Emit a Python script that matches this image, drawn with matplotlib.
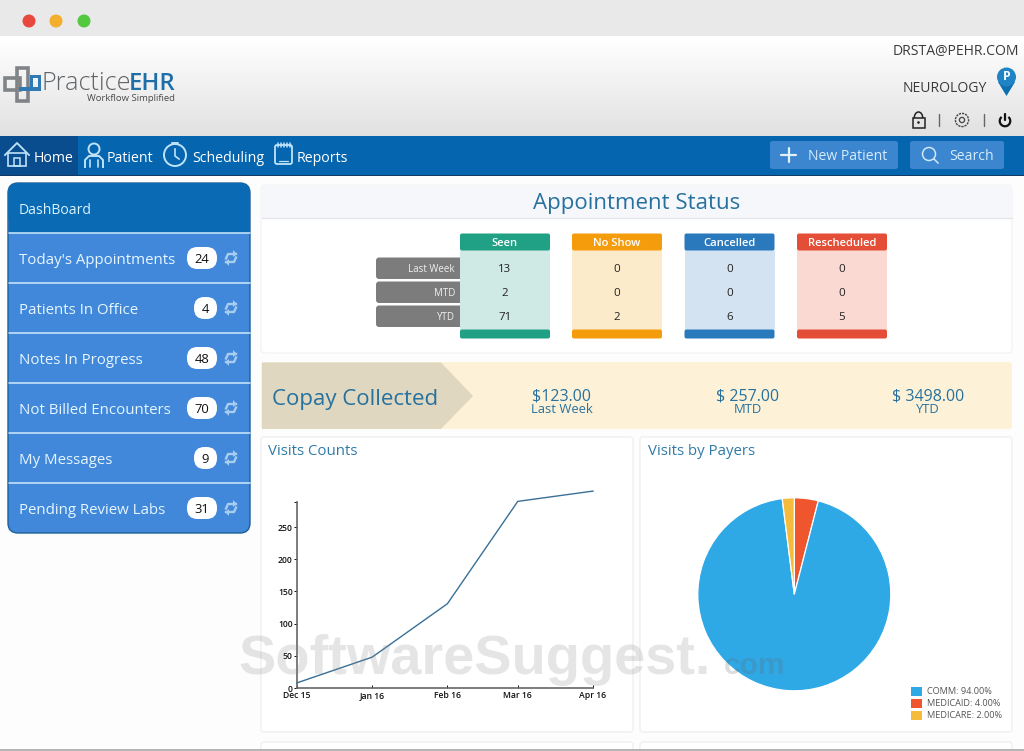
import datetime as dt
import numpy as np
import matplotlib
matplotlib.use("Agg")
import matplotlib.pyplot as plt
import matplotlib.dates as mdates
from matplotlib.patches import FancyBboxPatch, Rectangle, Circle, Polygon, Arc

plt.rcParams['font.family'] = ['Open Sans', 'DejaVu Sans']

# ---- data ----
visit_dates = [dt.date(2015, 12, 1), dt.date(2016, 1, 1), dt.date(2016, 2, 1), dt.date(2016, 3, 1), dt.date(2016, 4, 1)]
visit_counts = [8, 48, 131, 290, 306]
visit_labels = ['Dec 15', 'Jan 16', 'Feb 16', 'Mar 16', 'Apr 16']
visit_yticks = [0, 50, 100, 150, 200, 250]

payer_names = ['MEDICAID', 'COMM', 'MEDICARE']
payer_share = [4.0, 94.0, 2.0]
legend_order = ['COMM', 'MEDICAID', 'MEDICARE']

status_names = ['Seen', 'No Show', 'Cancelled', 'Rescheduled']
status_rows = ['Last Week', 'MTD', 'YTD']
seen_vals = [13, 2, 71]
noshow_vals = [0, 0, 2]
cancelled_vals = [0, 0, 6]
rescheduled_vals = [0, 0, 5]

copay_amounts = ['$123.00', '$ 257.00', '$ 3498.00']
copay_labels = ['Last Week', 'MTD', 'YTD']

side_items = ["Today's Appointments", 'Patients In Office', 'Notes In Progress',
              'Not Billed Encounters', 'My Messages', 'Pending Review Labs']
side_counts = [24, 4, 48, 70, 9, 31]

nav_items = ['Home', 'Patient', 'Scheduling', 'Reports']

# ---- canvas in pixel coordinates ----
W, H = 1024, 751
fig = plt.figure(figsize=(W / 100, H / 100), dpi=100, facecolor='#fdfdfe')
ax = fig.add_axes([0, 0, 1, 1], zorder=0)
ax.set_xlim(0, W)
ax.set_ylim(H, 0)
ax.axis('off')


def px(s):
    return s * 0.72


def rect(x, y, w, h, c, z=1, **kw):
    ax.add_patch(Rectangle((x, y), w, h, fc=c, ec='none', zorder=z, **kw))


def rrect(x, y, w, h, c, r=4, z=1, ec='none', lw=0):
    ax.add_patch(FancyBboxPatch((x + r, y + r), w - 2 * r, h - 2 * r,
                                boxstyle=f'round,pad={r},rounding_size={r}',
                                fc=c, ec=ec, lw=lw, zorder=z))


def txt(x, y, s, size, c='#222222', ha='left', va='center', z=5, **kw):
    return ax.text(x, y + 1.5, s, fontsize=px(size), color=c, ha=ha, va=va, zorder=z, **kw)


def vline(x, y0, y1, c, lw=1.2, z=6):
    ax.plot([x, x], [y0, y1], color=c, lw=lw, zorder=z, solid_capstyle='round')


def hline(x0, x1, y, c, lw=1.2, z=6):
    ax.plot([x0, x1], [y, y], color=c, lw=lw, zorder=z, solid_capstyle='round')


# window chrome
rect(0, 0, W, 36, '#e9e9e9')
for cx, col in zip([29, 56, 84], ['#e9483f', '#f2ae2c', '#52c93f']):
    ax.add_patch(Circle((cx, 21), 6.5, fc=col, ec='none', zorder=2))

# header gradient
grad = np.linspace(1.0, 0.88, 100).reshape(-1, 1)
ax.imshow(grad, extent=(0, W, 136, 36), cmap='gray', vmin=0, vmax=1, aspect='auto', zorder=1)
ax.set_xlim(0, W)
ax.set_ylim(H, 0)

# logo
ax.add_patch(Rectangle((17, 67.5), 11, 33, fc='none', ec='#808488', lw=2.6, zorder=3))
ax.add_patch(Rectangle((5, 77.5), 15, 12, fc='none', ec='#808488', lw=2.6, zorder=3))
rect(19, 87, 22, 4, '#2f79b5', z=4)
rect(30, 75, 3, 14, '#2f79b5', z=4)
rect(30, 75, 11, 3, '#2f79b5', z=4)
rect(38, 75, 3, 14, '#2f79b5', z=4)
txt(42, 82, 'Practice', 25.3, '#5f6468', fontweight='light')
txt(129, 82, 'EHR', 24, '#1e6ea8', fontweight='semibold')
txt(175, 97, 'Workflow Simplified', 9.5, '#4a4a4a', ha='right')

# user block
txt(1019, 50, 'DRSTA@PEHR.COM', 14, '#3a3a3a', ha='right')
txt(987, 87, 'NEUROLOGY', 14, '#3a3a3a', ha='right')
ax.add_patch(Polygon([[998, 82], [1015, 82], [1006.5, 96]], fc='#0d6fb0', ec='none', zorder=4))
ax.add_patch(Circle((1006.5, 77), 9.5, fc='#1f83c4', ec='none', zorder=4))
txt(1006.5, 75.5, 'P', 12, 'white', ha='center', fontweight='bold')
# lock / gear / power
ax.add_patch(Rectangle((912.5, 118), 12, 9.5, fc='none', ec='#222222', lw=1.1, zorder=6))
ax.add_patch(Arc((918.5, 118), 8.5, 12, theta1=180, theta2=360, ec='#222222', lw=1.1, zorder=6))
ax.add_patch(Circle((918.5, 122.5), 1.3, fc='#222222', ec='none', zorder=6))
vline(939, 114, 126, '#666666', 1)
ax.add_patch(Circle((962, 120), 6.6, fc='none', ec='#444444', lw=1.0, ls=(0, (1.6, 0.7)), zorder=6))
ax.add_patch(Circle((962, 120), 2.6, fc='none', ec='#444444', lw=0.9, zorder=6))
vline(984, 114, 126, '#666666', 1)
ax.add_patch(Arc((1005, 121), 10.5, 10.5, theta1=-50, theta2=230, ec='#111111', lw=1.6, zorder=6))
vline(1005, 114, 120, '#111111', 1.6)

# nav bar
rect(0, 136, W, 39, '#0565ae', z=2)
rect(0, 136, 78, 39, '#0a4d8f', z=3)
rect(0, 174.5, W, 1.5, '#123a63', z=3)
nav_x = [34, 107, 192, 297]
for x, s in zip(nav_x, nav_items):
    txt(x, 156.5, s, 14.1, 'white')
ic = '#bfe3fa'
# home icon
ax.plot([5, 17, 29], [155, 143, 155], color=ic, lw=1.3, zorder=6)
ax.add_patch(Rectangle((8, 153), 18, 13, fc='none', ec=ic, lw=1.2, zorder=6))
ax.add_patch(Rectangle((14, 158), 6, 8, fc='none', ec=ic, lw=1.1, zorder=6))
# patient icon
ax.add_patch(Circle((94, 149), 5.5, fc='none', ec=ic, lw=1.4, zorder=6))
ax.plot([85, 85, 89, 99, 103, 103], [167, 160, 156, 156, 160, 167], color=ic, lw=1.4, zorder=6)
vline(90, 160, 167, ic, 1.2)
vline(98, 160, 167, ic, 1.2)
# clock icon
ax.add_patch(Circle((175, 155), 11, fc='none', ec=ic, lw=1.4, zorder=6))
ax.plot([175, 175, 179], [149, 156, 159], color=ic, lw=1.2, zorder=6)
hline(172, 178, 142.5, ic, 1.4)
# calendar icon
ax.add_patch(FancyBboxPatch((276, 146), 15, 17, boxstyle='round,pad=1,rounding_size=2', fc='none', ec=ic, lw=1.3, zorder=6))
for x in [278, 281, 284, 287, 290]:
    vline(x, 143, 147, ic, 1.1)
hline(279, 288, 161, ic, 0.9)

# nav buttons
for x, w, s, tx in [(770, 128, 'New Patient', 808), (910, 94, 'Search', 949)]:
    rrect(x, 141, w, 28, '#3b86cf', r=2.5, z=3)
    txt(tx, 155, s, 14, '#d6ecfb', z=6)
hline(781, 796, 155, '#dff1fb', 1.6)
vline(788.5, 148, 162, '#dff1fb', 1.6)
ax.add_patch(Circle((929, 154), 6.5, fc='none', ec='#cfe8f8', lw=1.1, zorder=6))
ax.plot([934, 938], [159, 163], color='#cfe8f8', lw=1.1, zorder=6)

# sidebar
rrect(8, 183, 242, 350, '#4188da', r=10, z=2, ec='#1d5f98', lw=1)
ax.add_patch(FancyBboxPatch((18, 193), 222, 22, boxstyle='round,pad=10,rounding_size=10',
                            fc='#0a6ab4', ec='none', zorder=3))
rect(8.5, 205, 241, 27.5, '#0a6ab4', z=3)
txt(19, 208.5, 'DashBoard', 14, '#d8f4ff')
for i, (item, n) in enumerate(zip(side_items, side_counts)):
    y = 258 + i * 50
    hline(8.5, 249.5, y - 25, '#cfe9fb', 1.1, z=4)
    txt(19, y + 0.5, item, 15, '#e6f6ff')
    wid = 30 if n > 9 else 23
    rrect(217 - wid, y - 11, wid, 22, 'white', r=10.5, z=4)
    txt(217 - wid / 2, y, str(n), 13, '#111111', ha='center')
    # refresh glyph
    ax.plot([226, 228, 236], [y + 0.5, y - 4, y - 4], color='#a9cdf0', lw=1.7, zorder=5)
    ax.plot([236, 234, 226], [y - 0.5, y + 4, y + 4], color='#a9cdf0', lw=1.7, zorder=5)
    ax.add_patch(Polygon([[233, y - 8], [237, y - 4], [233, y - 1]], fc='#a9cdf0', ec='none', zorder=5))
    ax.add_patch(Polygon([[229, y + 8], [225, y + 4], [229, y + 1]], fc='#a9cdf0', ec='none', zorder=5))

# appointment status panel
rrect(261, 185, 751, 168, 'white', r=4, z=2, ec='#f1f1f1', lw=0.8)
rect(261.5, 186, 750, 32, '#f6f7fb', z=3)
hline(261.5, 1011.5, 218, '#e4e6ea', 1, z=4)
txt(636.5, 202.5, 'Appointment Status', 22.3, '#27719f', ha='center', z=5)

col_x = [460, 572, 684.5, 797]
col_head = ['#20a085', '#f59c0c', '#2a79bd', '#e44d36']
col_body = ['#cfeae4', '#fcebcb', '#d4e3f1', '#fbd9d3']
col_vals = [seen_vals, noshow_vals, cancelled_vals, rescheduled_vals]
row_y = [268, 292, 316]
for ry, rn in zip(row_y, status_rows):
    rrect(376, ry - 10.5, 90, 21.5, '#7c7c7c', r=3, z=3)
    txt(455, ry - 0.5, rn, 9.8, '#f0f0f0', ha='right', z=6)
for x, n, h, b, vals in zip(col_x, status_names, col_head, col_body, col_vals):
    rect(x, 250, 90, 80, b, z=4)
    rrect(x, 233.5, 90, 17, h, r=2, z=5)
    rrect(x, 329.5, 90, 9, h, r=2, z=5)
    txt(x + 45, 241.5, n, 11.3, 'white', ha='center', z=6, fontweight='semibold')
    for ry, v in zip(row_y, vals):
        txt(x + 45, ry - 0.5, str(v), 11.5, '#222222', ha='center', z=6)

# copay band
rrect(261, 362, 751, 67, '#fdf2d8', r=3, z=2)
ax.add_patch(Polygon([[262, 362.5], [441, 362.5], [473, 396], [441, 429], [262, 429]],
                     fc='#dfd7bf', ec='none', zorder=3))
txt(272, 398, 'Copay Collected', 22.3, '#27719f', z=5)
for x, a, l in zip([561.5, 747.5, 928], copay_amounts, copay_labels):
    txt(x, 394.5, a, 16, '#27719f', ha='center')
    txt(x, 408, l, 13, '#27719f', ha='center')

# chart cards
rrect(261, 437, 372, 295, 'white', r=3, z=2, ec='#f0f0f0', lw=1)
rrect(640, 437, 372, 295, 'white', r=3, z=2, ec='#f0f0f0', lw=1)
rrect(261, 742, 372, 20, 'white', r=3, z=2, ec='#f0f0f0', lw=1)
rrect(640, 742, 372, 20, 'white', r=3, z=2, ec='#f0f0f0', lw=1)
txt(268.5, 450, 'Visits Counts', 15, '#2f7aa8')
txt(647.5, 450, 'Visits by Payers', 15, '#2f7aa8')
rect(0, 749, W, 2, '#b5b5b5', z=4)

# ---- line chart ----
L, R, T, B = 297, 593, 501.7, 688
la = fig.add_axes([L / W, 1 - B / H, (R - L) / W, (B - T) / H], zorder=2)
la.patch.set_alpha(0)
la.plot(visit_dates, visit_counts, color='#3a6f96', lw=1.0, clip_on=False, zorder=3)
la.set_xlim(visit_dates[0], visit_dates[-1])
la.set_ylim(0, 289.5)
la.set_xticks([mdates.date2num(d) for d in visit_dates])
la.set_xticklabels(visit_labels)
la.set_yticks(visit_yticks + [289.5])
la.set_yticklabels([str(v) for v in visit_yticks] + [''])
la.tick_params(axis='both', labelsize=px(8.6), colors='#111111', width=0.7, length=2.5, pad=0.6)
la.tick_params(axis='x', direction='in', length=2.5, pad=2.2)
for lab in la.get_xticklabels() + la.get_yticklabels():
    lab.set_fontweight('semibold')
for s in ['top', 'right']:
    la.spines[s].set_visible(False)
for s in ['left', 'bottom']:
    la.spines[s].set_color('#666666')
    la.spines[s].set_linewidth(1.2)

# ---- pie chart ----
cx, cy, r_ = 794.3, 594.3, 96.5
pa = fig.add_axes([(cx - r_) / W, 1 - (cy + r_) / H, 2 * r_ / W, 2 * r_ / H], zorder=2)
pa.pie(payer_share, colors=['#f0562e', '#2fa8e6', '#f5bb3c'], startangle=90, counterclock=False,
       radius=1.0, wedgeprops=dict(edgecolor='white', linewidth=0.9),
       center=(0, 0), frame=False)
pa.set_xlim(-1, 1)
pa.set_ylim(-1, 1)
pa.set_aspect('equal')
pa.axis('off')

legend_cols = {'COMM': '#2fa8e6', 'MEDICAID': '#f0562e', 'MEDICARE': '#f5bb3c'}
share_by_name = dict(zip(payer_names, payer_share))
for i, name in enumerate(legend_order):
    y = 691 + i * 12
    rect(910.5, y - 4.5, 11, 9.5, legend_cols[name], z=4)
    ax.text(927, y + 0.7, f'{name}: {share_by_name[name]:.2f}%', fontsize=px(9.2), color='#555555',
            va='center', ha='left', zorder=5)

# ---- watermark, above everything ----
wa = fig.add_axes([0, 0, 1, 1], zorder=5)
wa.set_xlim(0, W)
wa.set_ylim(H, 0)
wa.axis('off')
wa.text(238, 674, 'SoftwareSuggest.', fontsize=px(56), fontweight='bold', color='#8a8a8a', alpha=0.22,
        va='baseline', ha='left', family='Liberation Sans')
wa.text(724, 674, 'com', fontsize=px(30), fontweight='bold', color='#666666', alpha=0.22,
        va='baseline', ha='left', family='Liberation Sans')

fig.savefig('out.png', dpi=100)
